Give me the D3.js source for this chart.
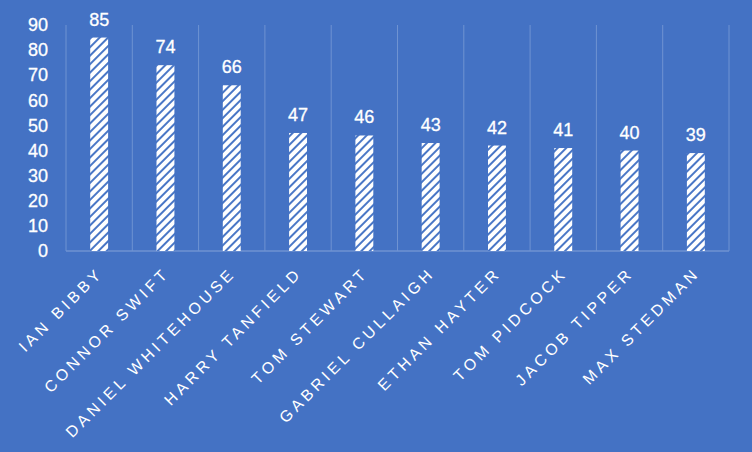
<!DOCTYPE html>
<html><head><meta charset="utf-8">
<script src="https://cdn.jsdelivr.net/npm/d3@7"></script>
<style>html,body{margin:0;padding:0;background:#4472C4;}svg{display:block;font-family:"Liberation Sans",Arial,sans-serif;}</style>
</head><body><svg id="c" width="752" height="452"></svg>
<script>
const categories = ["IAN BIBBY","CONNOR SWIFT","DANIEL WHITEHOUSE","HARRY TANFIELD","TOM STEWART","GABRIEL CULLAIGH","ETHAN HAYTER","TOM PIDCOCK","JACOB TIPPER","MAX STEDMAN"];
const values = [85,74,66,47,46,43,42,41,40,39];
const yTicks = [0,10,20,30,40,50,60,70,80,90];

const svg = d3.select("#c");
const W = 752, H = 452;
const m = {left:66, right:23, top:25, bottom:201};
svg.append("rect").attr("width",W).attr("height",H).attr("fill","#4472C4");

const defs = svg.append("defs");
const pat = defs.append("pattern").attr("id","hatch").attr("patternUnits","userSpaceOnUse")
  .attr("width",6).attr("height",6).attr("patternTransform","rotate(45)");
pat.append("rect").attr("width",6).attr("height",6).attr("fill","#ffffff");
pat.append("rect").attr("x",0).attr("width",2).attr("height",6).attr("fill","#4a77c6");

const x = d3.scaleBand().domain(categories).range([m.left, W-m.right]).padding(0);
const y = d3.scaleLinear().domain([0,90]).range([H-m.bottom, m.top]);
const grid = "#6f93d2";

const bounds = categories.map(c=>x(c)).concat([x(categories[categories.length-1])+x.bandwidth()]);
svg.append("g").selectAll("line").data(bounds).join("line")
  .attr("x1",d=>d).attr("x2",d=>d).attr("y1",y(90)).attr("y2",y(0))
  .attr("stroke",grid).attr("stroke-width",1);
svg.append("line").attr("x1",m.left).attr("x2",W-m.right).attr("y1",y(0)).attr("y2",y(0))
  .attr("stroke",grid).attr("stroke-width",1.3);

const bw = x.bandwidth()*0.27;
svg.append("g").selectAll("rect").data(values).join("rect")
  .attr("x",(d,i)=>x(categories[i])+x.bandwidth()/2-bw/2)
  .attr("width",bw)
  .attr("y",d=>y(d)).attr("height",d=>y(0)-y(d))
  .attr("fill","url(#hatch)");

svg.append("g").selectAll("text").data(values).join("text")
  .attr("x",(d,i)=>x(categories[i])+x.bandwidth()/2)
  .attr("y",d=>y(d)-12)
  .attr("text-anchor","middle").attr("fill","#fff").attr("font-size",18)
  .attr("stroke","#fff").attr("stroke-width",0.3)
  .text(d=>d);

const yAxis = d3.axisLeft(y).tickValues(yTicks).tickSize(0).tickPadding(18);
const ya = svg.append("g").attr("transform",`translate(${m.left},0)`).call(yAxis);
ya.select(".domain").remove();
ya.selectAll("text").attr("fill","#fff").attr("font-size",18).attr("font-family","Liberation Sans, Arial, sans-serif")
  .attr("stroke","#fff").attr("stroke-width",0.3);

const xAxis = d3.axisBottom(x).tickSize(0).tickPadding(0);
const xa = svg.append("g").attr("transform",`translate(0,${y(0)})`).call(xAxis);
xa.select(".domain").remove();
xa.selectAll("text")
  .attr("fill","#fff").attr("font-size",15.8).attr("font-family","Liberation Sans, Arial, sans-serif")
  .attr("letter-spacing",3.8)
  .attr("text-anchor","end").attr("dy",0).attr("y",0)
  .attr("transform","translate(5,23) rotate(-45)");
</script></body></html>
